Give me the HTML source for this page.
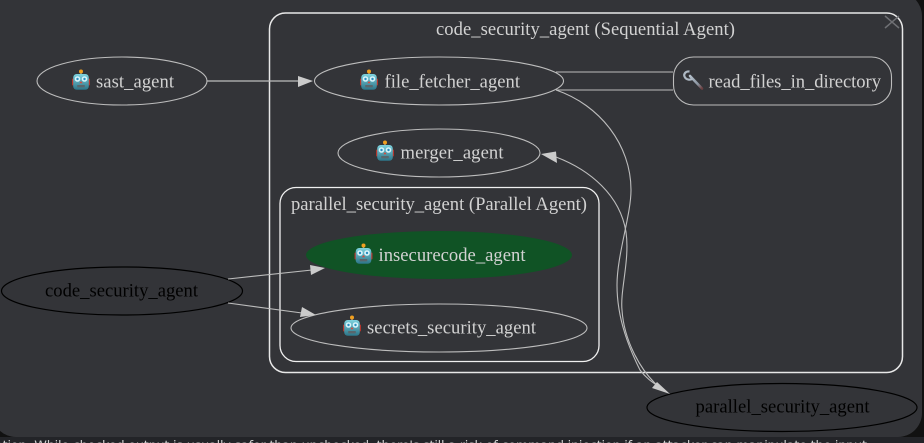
<!DOCTYPE html>
<html><head><meta charset="utf-8"><style>
html,body{margin:0;padding:0;background:#111;width:924px;height:443px;overflow:hidden}
svg{display:block}
text{font-family:"Liberation Serif",serif;font-size:18.6px;fill:#d2d2d2}
</style></head><body>
<svg width="924" height="443" viewBox="0 0 924 443" xmlns="http://www.w3.org/2000/svg">
<defs>
<linearGradient id="hd" x1="0" y1="0" x2="0" y2="1"><stop offset="0" stop-color="#7ed3df"/><stop offset="1" stop-color="#2c7488"/></linearGradient>
<linearGradient id="wr" x1="0" y1="0" x2="1" y2="1"><stop offset="0" stop-color="#b4c0cc"/><stop offset="0.65" stop-color="#8a94a0"/><stop offset="1" stop-color="#6b3f40"/></linearGradient>
<g id="robot">
<rect x="-9" y="-2.500" width="3" height="7" rx="1" fill="#b5352c"/><rect x="6" y="-2.500" width="3" height="7" rx="1" fill="#b5352c"/>
<rect x="-0.7" y="-9" width="1.4" height="3" fill="#999"/><circle cx="0" cy="-9.500" r="2" fill="#f0a020"/>
<rect x="-7.800" y="-7" width="15.600" height="15.800" rx="3.500" fill="url(#hd)"/>
<circle cx="-3.500" cy="-2" r="2.800" fill="#d8f4fa"/><circle cx="3.500" cy="-2" r="2.800" fill="#d8f4fa"/>
<circle cx="-3.500" cy="-2" r="1.200" fill="#2a8fc0"/><circle cx="3.500" cy="-2" r="1.200" fill="#2a8fc0"/>
<path d="M0 0l1.600 2.200h-3.200z" fill="#d8483c"/>
<rect x="-3.800" y="4" width="7.600" height="2.400" rx="0.600" fill="#59666c"/>
</g>
</defs>
<rect x="0" y="437" width="924" height="6" fill="#232428"/>
<rect x="-8" y="-8" width="930" height="445" rx="24" fill="#333438"/>

<rect x="269.500" y="13" width="633" height="359.500" rx="16" fill="none" stroke="#e8e8e8" stroke-width="1.500"/>
<rect x="280" y="187.500" width="319" height="174" rx="16" fill="none" stroke="#f0f0f0" stroke-width="1.300"/>
<text x="436" y="35" textLength="299">code_security_agent (Sequential Agent)</text>
<text x="291" y="210" textLength="296">parallel_security_agent (Parallel Agent)</text>

<path d="M885 16L899 28M899 16L885 28" stroke="#6f7074" stroke-width="1.500" fill="none"/>

<g fill="none" stroke="#bdbdbd" stroke-width="1.100">
<ellipse cx="122" cy="81" rx="85" ry="24"/>
<ellipse cx="439" cy="81" rx="124.500" ry="24"/>
<rect x="673.500" y="57" width="218" height="48" rx="20"/>
<ellipse cx="439" cy="153" rx="101" ry="24"/>
<ellipse cx="439" cy="328" rx="148" ry="24"/>
</g>
<ellipse cx="439" cy="255" rx="133" ry="24" fill="#105325"/>
<ellipse cx="122" cy="291" rx="120.500" ry="24" fill="none" stroke="#000" stroke-width="1.200"/>
<ellipse cx="782" cy="407.500" rx="135" ry="24" fill="none" stroke="#000" stroke-width="1.200"/>

<g fill="none" stroke="#bdbdbd" stroke-width="1.100">
<path d="M207 81H300" stroke-width="1.300"/>
<path d="M556 72H673"/>
<path d="M556 90H673"/>
<path d="M556 90C600 105 631 145 631 190C631 215 617 255 617 285C617 320 630 350 640 370C646 378 652 382 658 386"/>
<path d="M556 157C590 170 620 195 626 232C630 260 620 290 622 310C624 340 640 370 658 386"/>
<path d="M228 279L312 270"/>
<path d="M228 303L302 313"/>
</g>
<g fill="#cbcbcb">
<path d="M298 76L313 81L298 87Z"/>
<path d="M541 154L556 151.500L557 163Z"/>
<path d="M310 265L325 268L311 275Z"/>
<path d="M302 307L316 315L300 317Z"/>
<path d="M657 382L670 394L652 388Z"/>
</g>

<use href="#robot" x="81" y="81"/>
<use href="#robot" x="369" y="81"/>
<use href="#robot" x="385" y="152"/>
<use href="#robot" x="363.500" y="255"/>
<use href="#robot" x="352" y="327"/>

<g fill="none">
<path d="M690 76L702 88.500" stroke="url(#wr)" stroke-width="2.600" stroke-linecap="round"/>
<path d="M689.500 71.500C685.500 71 683.500 74 684.500 76.500C686 80 690.500 80.500 692.500 78.500" stroke="#aeb9c4" stroke-width="2.200"/>
</g>

<g>
<text x="96" y="87.500" textLength="78">sast_agent</text>
<text x="384.500" y="87.500" textLength="135.500">file_fetcher_agent</text>
<text x="708.500" y="87.500" textLength="172.500">read_files_in_directory</text>
<text x="400.500" y="158.500" textLength="103">merger_agent</text>
<text x="378.500" y="261" textLength="147">insecurecode_agent</text>
<text x="367" y="333.500" textLength="169">secrets_security_agent</text>
<text x="45" y="296.500" textLength="153" style="fill:#000">code_security_agent</text>
<text x="695.500" y="412.500" textLength="174" style="fill:#000">parallel_security_agent</text>
</g>
<text x="-5" y="449.500" textLength="872" style="font-family:'DejaVu Sans',sans-serif;font-size:12.800px;fill:#cfcfcf">ation: While checked output is usually safer than unchecked, there's still a risk of command injection if an attacker can manipulate the input</text>
</svg>
</body></html>
